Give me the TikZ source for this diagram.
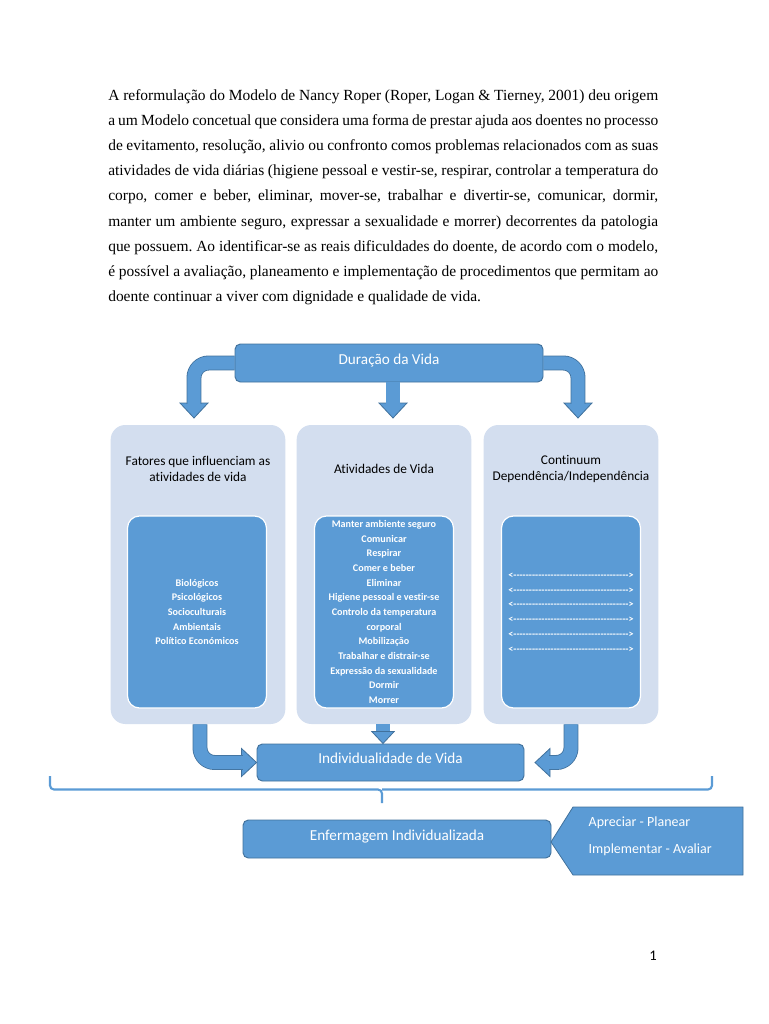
\documentclass[tikz,border=0pt]{standalone}
\usepackage{fontspec}
\setmainfont{Liberation Serif}
\newfontfamily\calibri[Ligatures=NoCommon]{Carlito}
\usetikzlibrary{positioning,calc}
\frenchspacing
\definecolor{azul}{RGB}{91,155,213}
\definecolor{borda}{RGB}{65,113,156}
\definecolor{fundo}{RGB}{211,222,239}
\newcommand\linha[1]{\makebox[412.5pt][s]{#1}}
\newcommand\contlinha{\makebox[94pt]{<\xleaders\hbox{-}\hfill>}}
\tikzset{
  caixa/.style={draw=borda, line width=0.7pt, fill=azul, rounded corners=4pt, text=white,
    text height=8pt, text depth=6.4pt, font=\calibri\fontsize{11.4}{13}\selectfont},
  painel/.style={fill=fundo, rounded corners=11pt, minimum width=131pt, minimum height=224.25pt},
  interior/.style={draw=white, line width=0.9pt, fill=azul, rounded corners=9pt,
    minimum width=104.25pt, minimum height=144pt},
  titulo/.style={align=center, font=\calibri\fontsize{10}{12}\selectfont},
  lista/.style={align=center, text=white, inner sep=0pt, font=\calibri\bfseries\fontsize{7.6}{11}\selectfont},
  seta/.style={draw=borda, line width=0.6pt, double=azul, double distance=10pt},
  ponta/.style={draw=borda, line width=0.6pt, fill=azul, line join=miter},
  chave/.style={draw=azul, line width=1.6pt, rounded corners=3pt},
  pontab/.pic={\draw[ponta] (-14,-15) -- (14,-15) -- (0,0) -- cycle;}
}
\begin{document}
\begin{tikzpicture}[x=0.75pt,y=-0.75pt]
  \useasboundingbox (0,0) rectangle (768,1024);
  % Texto
  \node[anchor=north west, inner sep=0pt, align=left,
    font=\fontsize{11.6}{18.9}\selectfont] (texto) at (108,89) {%
    \linha{A reformulação do Modelo de Nancy Roper (Roper, Logan \& Tierney, 2001) deu origem}\\
    \linha{a um Modelo concetual que considera uma forma de prestar ajuda aos doentes no processo}\\
    \linha{de evitamento, resolução, alivio ou confronto comos problemas relacionados com as suas}\\
    \linha{atividades de vida diárias (higiene pessoal e vestir-se, respirar, controlar a temperatura do}\\
    \linha{corpo, comer e beber, eliminar, mover-se, trabalhar e divertir-se, comunicar, dormir,}\\
    \linha{manter um ambiente seguro, expressar a sexualidade e morrer) decorrentes da patologia}\\
    \linha{que possuem. Ao identificar-se as reais dificuldades do doente, de acordo com o modelo,}\\
    \linha{é possível a avaliação, planeamento e implementação de procedimentos que permitam ao}\\
    doente continuar a viver com dignidade e qualidade de vida.};
  % Caixas
  \node[caixa, minimum width=231pt, minimum height=28.5pt] (dur) at (389,363) {Duração da Vida};
  \node[painel] (p1) at (198,574.5) {};
  \node[painel] (p2) at (384,574.5) {};
  \node[painel] (p3) at (571,574.5) {};
  \node[interior] (i1) at (197,612) {};
  \node[interior] (i2) at (384,612) {};
  \node[interior] (i3) at (571,612) {};
  \node[titulo] (t1) at (198,469) {Fatores que influenciam as\\atividades de vida};
  \node[titulo] (t2) at (384,469) {Atividades de Vida};
  \node[titulo] (t3) at (571,469) {Continuum\\Dependência/Independência};
  \node[lista] (l1) at (i1) {Biológicos\\Psicológicos\\Socioculturais\\Ambientais\\Político Económicos};
  \node[lista] (l2) at (i2) {Manter ambiente seguro\\Comunicar\\Respirar\\Comer e beber\\Eliminar\\
    Higiene pessoal e vestir-se\\Controlo da temperatura\\corporal\\Mobilização\\Trabalhar e distrair-se\\
    Expressão da sexualidade\\Dormir\\Morrer};
  \foreach \k in {0,...,5}
    \node[lista] (c\k) at (571,575.5+14.8*\k) {\contlinha};
  \node[caixa, minimum width=200.25pt, minimum height=27.75pt] (ind) at (390.5,762.5) {Individualidade de Vida};
  \node[caixa, minimum width=231pt, minimum height=28.5pt] (enf) at (397,839) {Enfermagem Individualizada};
  % Setas de cima
  \pic at (194,418) {pontab};
  \pic at (393,418) {pontab};
  \pic at (578,418) {pontab};
  \draw[seta, rounded corners=11pt] (dur.west) -| (194,403.8);
  \draw[seta, rounded corners=11pt] (dur.east) -| (578,403.8);
  \draw[seta] (393,0 |- dur.south) -- (393,403.8);
  % Setas de baixo
  \pic[rotate=90] at (ind.west) {pontab};
  \pic[rotate=-90] at (535,762.5) {pontab};
  \pic[scale=0.8] at (383,743.5) {pontab};
  \draw[seta, rounded corners=11pt] (200,0 |- p1.south) |- (242.8,762.5);
  \draw[seta, rounded corners=11pt] (571,0 |- p3.south) |- (549.2,762.5);
  \draw[seta] (383,0 |- p2.south) -- (383,731.2);
  % Chaveta
  \coordinate (ch1) at (50,776);
  \coordinate (ch2) at (712,776);
  \coordinate (chm) at (382,803);
  \draw[chave] (ch1) |- (chm |- 0,789.5) -- (chm);
  \draw[chave] (ch2) |- (chm |- 0,789.5);
  % Apreciar - Planear
  \draw[ponta] (743,807) -- (573,807) -- (551,842) -- (573,875) -- (743,875) -- cycle;
  \node[anchor=west, text=white, font=\calibri\fontsize{10.5}{12}\selectfont] (apr) at (584,823) {Apreciar - Planear};
  \node[anchor=west, text=white, font=\calibri\fontsize{10.5}{12}\selectfont] (impl) at (584,850) {Implementar - Avaliar};
  % Pagina
  \node[font=\calibri\fontsize{11}{13}\selectfont] (pag) at (653,956) {1};
\end{tikzpicture}
\end{document}
